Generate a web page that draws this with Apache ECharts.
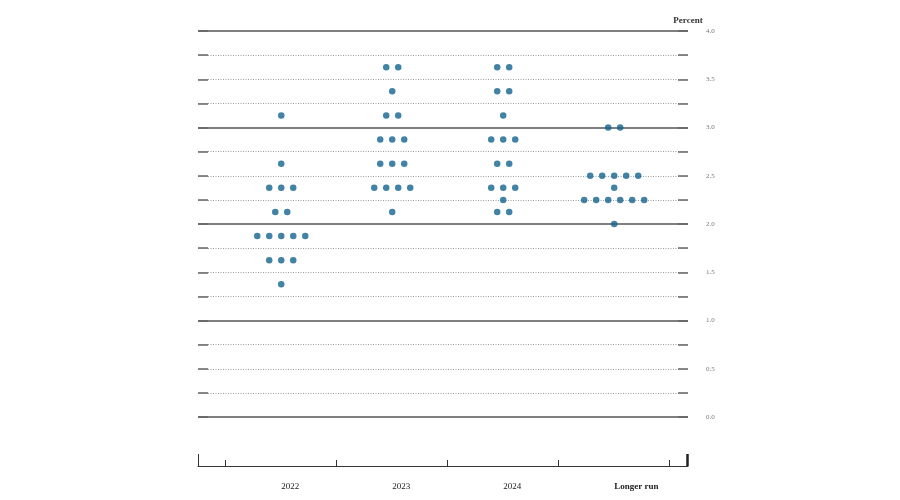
<!DOCTYPE html>
<html>
<head>
<meta charset="utf-8">
<script src="https://cdn.jsdelivr.net/npm/echarts@6/dist/echarts.min.js"></script>
<style>html,body{margin:0;padding:0;background:#fff}#c{width:900px;height:500px}</style>
</head>
<body>
<div id="c"></div>
<script>
const categories = ['2022', '2023', '2024', 'Longer run'];
const yTicks = ['0.0', '0.5', '1.0', '1.5', '2.0', '2.5', '3.0', '3.5', '4.0'];

const rates2022 = [3.125, 2.625, 2.375, 2.125, 1.875, 1.625, 1.375];
const counts2022 = [1, 1, 3, 2, 5, 3, 1];

const rates2023 = [3.625, 3.375, 3.125, 2.875, 2.625, 2.375, 2.125];
const counts2023 = [2, 1, 2, 3, 3, 4, 1];

const rates2024 = [3.625, 3.375, 3.125, 2.875, 2.625, 2.375, 2.25, 2.125];
const counts2024 = [2, 2, 1, 3, 2, 3, 1, 2];

const ratesLR = [3.0, 2.5, 2.375, 2.25, 2.0];
const countsLR = [2, 5, 1, 6, 1];

const groups = [
  [rates2022, counts2022],
  [rates2023, counts2023],
  [rates2024, counts2024],
  [ratesLR, countsLR]
];

const DOT_GAP = 12;
const dots = [];
groups.forEach(function (g, ci) {
  const rates = g[0], counts = g[1];
  rates.forEach(function (r, k) {
    const n = counts[k];
    for (let j = 0; j < n; j++) {
      dots.push({ value: [ci, r], symbolOffset: [(j - (n - 1) / 2) * DOT_GAP, 0] });
    }
  });
});

const XMIN = -0.75, XMAX = 3.665;
const serif = '"Liberation Serif", "DejaVu Serif", serif';

function yLabel(v) {
  const q = Math.round(v * 4);
  return q % 2 === 0 ? yTicks[q / 2] : '';
}

const chart = echarts.init(document.getElementById('c'), null, { renderer: 'canvas' });
chart.setOption({
  animation: false,
  backgroundColor: '#fff',
  grid: { left: 198, right: 212, top: 31, bottom: 83, containLabel: false },
  xAxis: [
    {
      type: 'value', min: XMIN, max: XMAX, position: 'bottom', offset: 49,
      axisLine: { show: true, onZero: false, lineStyle: { color: '#333', width: 1 } },
      axisTick: { show: true, inside: true, length: 6, lineStyle: { color: '#333', width: 1 },
        customValues: [-0.5, 0.5, 1.5, 2.5, 3.5] },
      axisLabel: {
        show: true, customValues: [0, 1, 2, 3], align: 'left', margin: 16,
        fontFamily: serif, fontSize: 9, color: '#222',
        formatter: function (v) {
          const name = categories[Math.round(v)];
          return Math.round(v) === 3 ? '{b|' + name + '}' : name;
        },
        rich: { b: { fontFamily: serif, fontSize: 9, fontWeight: 'bold', color: '#222' } }
      },
      splitLine: { show: false }
    },
    {
      type: 'value', min: XMIN, max: XMAX, position: 'bottom', offset: 49,
      axisLine: { show: false, onZero: false },
      axisTick: { show: true, inside: true, length: 12, lineStyle: { color: '#333', width: 1 }, customValues: [XMIN] },
      axisLabel: { show: false }, splitLine: { show: false }
    },
    {
      type: 'value', min: XMIN, max: XMAX, position: 'bottom', offset: 49,
      axisLine: { show: false, onZero: false },
      axisTick: { show: true, inside: true, length: 12, lineStyle: { color: '#222', width: 2.5 }, customValues: [XMAX - 0.005] },
      axisLabel: { show: false }, splitLine: { show: false }
    }
  ],
  yAxis: [
    {
      type: 'value', min: 0, max: 4, interval: 0.25, position: 'left',
      axisLine: { show: false, onZero: false },
      axisTick: { show: true, inside: true, length: 10, lineStyle: { color: '#666', width: 1.5 } },
      axisLabel: { show: false },
      splitLine: { show: true, lineStyle: { type: [1, 1.5], width: 1,
        color: ['transparent', '#9a9a9a', '#9a9a9a', '#9a9a9a'] } }
    },
    {
      type: 'value', min: 0, max: 4, interval: 0.25, position: 'right',
      axisLine: { show: false, onZero: false },
      axisTick: { show: true, inside: true, length: 10, lineStyle: { color: '#666', width: 1.5 } },
      axisLabel: { show: true, margin: 18, fontFamily: serif, fontSize: 7, color: '#777', formatter: yLabel },
      splitLine: { show: false },
      name: 'Percent', nameLocation: 'end', nameGap: 6,
      nameTextStyle: { fontFamily: serif, fontSize: 9, fontWeight: 'bold', color: '#333', align: 'center' }
    },
    {
      type: 'value', min: 0, max: 4, interval: 1, position: 'left',
      axisLine: { show: false, onZero: false }, axisTick: { show: false }, axisLabel: { show: false },
      splitLine: { show: true, lineStyle: { type: 'solid', width: 1.5, color: '#555' } }
    }
  ],
  series: [
    {
      type: 'scatter', xAxisIndex: 0, yAxisIndex: 0,
      symbol: 'circle', symbolSize: 6.5,
      itemStyle: { color: '#13648f' },
      z: 10,
      data: dots
    }
  ]
});
</script>
</body>
</html>
